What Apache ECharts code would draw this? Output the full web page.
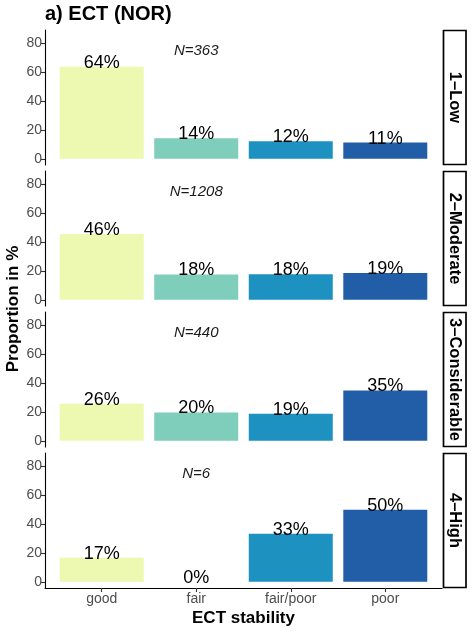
<!DOCTYPE html>
<html>
<head>
<meta charset="utf-8">
<script src="https://cdn.jsdelivr.net/npm/echarts@6/dist/echarts.min.js"></script>
<style>
html,body{margin:0;padding:0;background:#fff;}
#chart{width:474px;height:631px;}
</style>
</head>
<body>
<div id="chart"></div>
<script>
// ---- data ----
const categories = ['good', 'fair', 'fair/poor', 'poor'];
const hazardLevels = ['1–Low', '2–Moderate', '3–Considerable', '4–High'];
const lowValues = [63.8, 14.3, 12.2, 11.3];
const moderateValues = [45.6, 17.6, 17.7, 18.6];
const considerableValues = [25.7, 19.7, 18.8, 34.9];
const highValues = [16.7, 0, 33.3, 50];
const panelValues = [lowValues, moderateValues, considerableValues, highValues];
const nCounts = [363, 1208, 440, 6];
const nLabelX = 1;      // category index where N label sits
const nLabelY = 75;     // data value where N label sits
const yTicks = [0, 20, 40, 60, 80];
const barColors = ['#EDF8B1', '#7FCDBB', '#1D91C0', '#225EA8'];

// ---- layout ----
const FONT = 'Liberation Sans, Arial, Helvetica, sans-serif';
const plotLeft = 45, plotRight = 442, panelH = 135, panelGap = 6, firstTop = 30;
const tops = [0, 1, 2, 3].map(i => firstTop + i * (panelH + panelGap));

const chart = echarts.init(document.getElementById('chart'), null, {renderer: 'canvas'});

const grids = [], xAxes = [], yAxes = [], series = [], graphics = [];

tops.forEach((top, i) => {
  const isLast = i === tops.length - 1;
  grids.push({left: plotLeft, top: top, width: plotRight - plotLeft, height: panelH, containLabel: false});
  xAxes.push({
    type: 'value', gridIndex: i, min: -0.6, max: 3.6,
    splitLine: {show: false},
    axisLine: {show: isLast, onZero: false, lineStyle: {color: '#000', width: 1.1}},
    axisTick: {show: isLast, customValues: [0, 1, 2, 3], length: 4, lineStyle: {color: '#333', width: 1.1}},
    axisLabel: {show: isLast, customValues: [0, 1, 2, 3], formatter: v => categories[Math.round(v)],
      color: '#4D4D4D', fontSize: 14, fontFamily: FONT, margin: 4},
    name: isLast ? 'ECT stability' : '',
    nameLocation: 'middle', nameGap: 22,
    nameTextStyle: {fontSize: 17, fontWeight: 'bold', color: '#000', fontFamily: FONT}
  });
  yAxes.push({
    type: 'value', gridIndex: i, min: -4.25, max: 89.25,
    splitLine: {show: false},
    axisLine: {show: true, onZero: false, lineStyle: {color: '#000', width: 1.1}},
    axisTick: {show: true, customValues: yTicks, length: 4, lineStyle: {color: '#333', width: 1.1}},
    axisLabel: {show: true, customValues: yTicks, color: '#4D4D4D', fontSize: 14, fontFamily: FONT, margin: 3}
  });
  series.push({
    type: 'bar', xAxisIndex: i, yAxisIndex: i,
    barWidth: 84,
    data: panelValues[i].map((v, k) => ({value: [k, v], itemStyle: {color: barColors[k]}})),
    label: {
      show: true, position: 'top', distance: -5,
      formatter: p => Math.round(p.value[1]) + '%',
      color: '#000', fontSize: 18, fontFamily: FONT
    },
    silent: true, animation: false
  });
  series.push({
    type: 'scatter', xAxisIndex: i, yAxisIndex: i,
    symbolSize: 1, itemStyle: {color: 'rgba(0,0,0,0)', opacity: 1},
    data: [[nLabelX, nLabelY]],
    label: {
      show: true, position: 'inside',
      formatter: 'N=' + nCounts[i],
      color: '#1a1a1a', opacity: 1, fontSize: 15, fontStyle: 'italic', fontFamily: FONT
    },
    silent: true, animation: false
  });
  // strip
  graphics.push({
    type: 'rect', shape: {x: 443.5, y: top + 0.5, width: 22.5, height: panelH - 1},
    style: {fill: '#fff', stroke: '#000', lineWidth: 1.7}
  });
  graphics.push({
    type: 'text', x: 455, y: top + panelH / 2, rotation: -Math.PI / 2,
    style: {text: hazardLevels[i], fontSize: 16.5, fontWeight: 'bold', fontFamily: FONT, fill: '#000',
      align: 'center', verticalAlign: 'middle'}
  });
});

graphics.push({
  type: 'text', x: 45, y: 14,
  style: {text: 'a) ECT (NOR)', fontSize: 20, fontWeight: 'bold', fontFamily: FONT, fill: '#000',
    align: 'left', verticalAlign: 'middle'}
});
graphics.push({
  type: 'text', x: 13.5, y: (tops[0] + tops[3] + panelH) / 2, rotation: Math.PI / 2,
  style: {text: 'Proportion in %', fontSize: 17, fontWeight: 'bold', fontFamily: FONT, fill: '#000',
    align: 'center', verticalAlign: 'middle'}
});

chart.setOption({
  backgroundColor: '#fff',
  animation: false,
  grid: grids,
  xAxis: xAxes,
  yAxis: yAxes,
  series: series,
  graphic: graphics
});
</script>
</body>
</html>
